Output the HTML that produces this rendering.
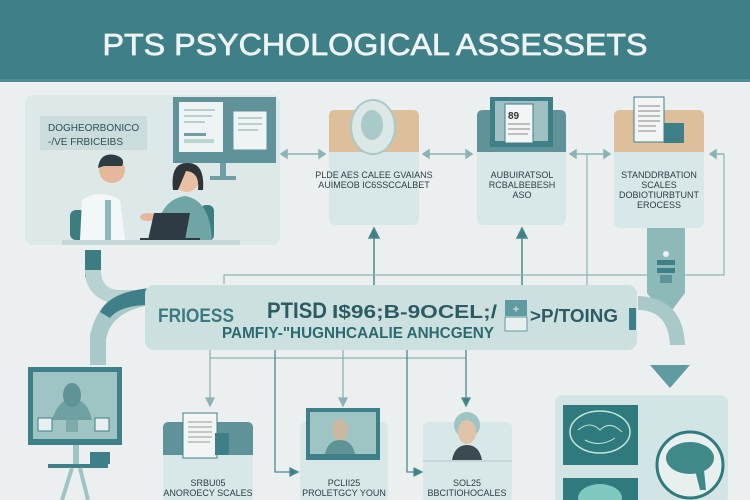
<!DOCTYPE html>
<html><head><meta charset="utf-8"><style>
html,body{margin:0;padding:0;width:750px;height:500px;overflow:hidden;background:#eceff0;font-family:"Liberation Sans",sans-serif}
svg{display:block}
</style></head><body>
<svg width="750" height="500" viewBox="0 0 750 500" xmlns="http://www.w3.org/2000/svg" font-family="Liberation Sans, sans-serif">
<rect width="750" height="500" fill="#eceff0"/>
<!-- header -->
<rect width="750" height="81" fill="#3f7f87"/>
<rect y="79" width="750" height="3" fill="#4f8d94"/>
<text x="375" y="55" text-anchor="middle" font-size="31" fill="#eef4f4" stroke="#eef4f4" stroke-width="0.7" textLength="545" lengthAdjust="spacingAndGlyphs">PTS PSYCHOLOGICAL ASSESSETS</text>

<!-- left panel -->
<rect x="25" y="95" width="255" height="150" rx="8" fill="#dde8e8"/>
<rect x="40" y="116" width="107" height="34" fill="#cbdcdc"/>
<text x="48" y="131" font-size="10" fill="#2d4f55">DOGHEORBONICO</text>
<text x="48" y="145" font-size="10" fill="#2d4f55">-/VE FRBICEIBS</text>
<rect x="173" y="97" width="103" height="66" fill="#5f9299"/>
<rect x="179" y="102" width="44" height="50" fill="#eef3f3"/>
<rect x="233" y="111" width="34" height="39" fill="#eef3f3" stroke="#5f9299"/>
<g stroke="#a9c2c4" stroke-width="1.5"><line x1="184" y1="110" x2="215" y2="110"/><line x1="184" y1="116" x2="212" y2="116"/><line x1="184" y1="122" x2="205" y2="122"/><line x1="238" y1="118" x2="262" y2="118"/><line x1="238" y1="124" x2="262" y2="124"/><line x1="238" y1="130" x2="258" y2="130"/></g>
<rect x="184" y="133" width="22" height="3" fill="#6f9ea3"/><rect x="184" y="139" width="30" height="4" fill="#b9d6d3"/>
<rect x="220" y="163" width="6" height="14" fill="#6f9ea3"/><rect x="210" y="176" width="26" height="4" fill="#6f9ea3"/>
<!-- doctor -->
<rect x="70" y="210" width="16" height="30" rx="6" fill="#3b7d80"/>
<path d="M80 240 L82 200 Q100 188 120 200 L125 240Z" fill="#f4f7f7"/>
<rect x="105" y="200" width="6" height="40" fill="#8fb7c0"/>
<circle cx="112" cy="170" r="13" fill="#e5b89e"/>
<path d="M98 168 Q100 152 115 155 Q126 158 122 166 L104 166Z" fill="#2e3b40"/>
<ellipse cx="148" cy="217" rx="8" ry="4" fill="#e5b89e"/>
<!-- patient -->
<rect x="200" y="205" width="14" height="36" rx="6" fill="#3b7d80"/>
<path d="M155 240 Q158 200 185 196 Q210 200 212 240Z" fill="#6fa5a5"/>
<circle cx="187" cy="180" r="12" fill="#e8c0a5"/>
<path d="M173 190 Q170 162 188 163 Q205 163 203 190 L198 190 Q200 172 186 171 L178 190Z" fill="#2e3438"/>
<path d="M148 240 L154 213 L190 213 L185 240Z" fill="#2e3b44"/>
<rect x="140" y="238" width="60" height="3" fill="#2e3b44"/>
<rect x="62" y="240" width="178" height="5" fill="#c4d8d7"/>

<!-- pipe left -->
<rect x="85" y="250" width="16" height="27" fill="#3b7d80"/>
<path d="M85 270 Q85 300 120 305 L150 305 L150 290 L120 290 Q101 290 101 270Z" fill="#b8d2d2"/>
<path d="M150 290 L138 290 Q100 292 90 335 L90 365 L106 365 L106 340 Q110 312 150 305Z" fill="#a9c9c9"/>
<path d="M150 288 L150 305 Q120 305 110 318 L100 312 Q110 292 150 288Z" fill="#3f7f87"/>

<!-- connectors top -->
<g stroke="#8cb3b3" stroke-width="1.5" fill="#8cb3b3">
<line x1="283" y1="154" x2="323" y2="154"/><polygon points="281,154 287,150 287,158"/><polygon points="325,154 319,150 319,158"/>
<line x1="425" y1="154" x2="470" y2="154"/><polygon points="423,154 429,150 429,158"/><polygon points="472,154 466,150 466,158"/>
<line x1="572" y1="154" x2="608" y2="154"/><polygon points="570,154 576,150 576,158"/><polygon points="610,154 604,150 604,158"/>
<line x1="712" y1="154" x2="724" y2="154"/><polygon points="710,154 716,150 716,158"/>
</g>
<g stroke="#4a8b8b" stroke-width="1.5" fill="#3f7f87">
<line x1="374" y1="236" x2="374" y2="285"/><polygon points="374,228 369,238 379,238"/>
<line x1="522" y1="236" x2="522" y2="285"/><polygon points="522,228 517,238 527,238"/>
</g>
<g stroke="#8cb3b3" stroke-width="1.2" fill="none">
<polyline points="224,284 224,275 724,275 724,154"/>
<line x1="587" y1="154" x2="587" y2="285"/>
</g>

<!-- top cards -->
<rect x="329" y="110" width="90" height="115" rx="6" fill="#d8e7e7"/>
<path d="M329 116 Q329 110 335 110 L413 110 Q419 110 419 116 L419 152 L329 152Z" fill="#ddbf9c"/>
<ellipse cx="373" cy="127" rx="22" ry="27" fill="#dbe8e6" stroke="#a9cac8" stroke-width="2"/>
<ellipse cx="372" cy="125" rx="11" ry="15" fill="#a9cac8"/>
<text x="374" y="178" text-anchor="middle" font-size="9" fill="#2d3f44">PLDE AES CALEE GVAIANS</text>
<text x="374" y="188" text-anchor="middle" font-size="9" fill="#2d3f44">AUIMEOB IC6SSCCALBET</text>

<rect x="477" y="110" width="89" height="115" rx="6" fill="#d8e7e7"/>
<path d="M477 116 Q477 110 483 110 L560 110 Q566 110 566 116 L566 152 L477 152Z" fill="#5f9299"/>
<rect x="490" y="97" width="63" height="50" fill="#3f7f87"/>
<rect x="495" y="101" width="53" height="40" fill="#9fc1c3"/>
<rect x="505" y="104" width="28" height="39" fill="#f3f5f5" stroke="#3f7f87"/>
<text x="508" y="119" font-size="10" font-weight="bold" fill="#333">89</text>
<g stroke="#888" stroke-width="1"><line x1="508" y1="124" x2="530" y2="124"/><line x1="508" y1="129" x2="530" y2="129"/><line x1="508" y1="134" x2="528" y2="134"/></g>
<text x="522" y="178" text-anchor="middle" font-size="9" fill="#2d3f44">AUBUIRATSOL</text>
<text x="522" y="188" text-anchor="middle" font-size="9" fill="#2d3f44">RCBALBEBESH</text>
<text x="522" y="198" text-anchor="middle" font-size="9" fill="#2d3f44">ASO</text>

<rect x="614" y="110" width="90" height="118" rx="6" fill="#d8e7e7"/>
<path d="M614 116 Q614 110 620 110 L698 110 Q704 110 704 116 L704 152 L614 152Z" fill="#ddbf9c"/>
<rect x="634" y="97" width="30" height="45" fill="#f3f5f5" stroke="#3f7f87"/>
<g stroke="#888" stroke-width="1"><line x1="638" y1="106" x2="660" y2="106"/><line x1="638" y1="111" x2="660" y2="111"/><line x1="638" y1="116" x2="660" y2="116"/><line x1="638" y1="121" x2="660" y2="121"/><line x1="638" y1="126" x2="656" y2="126"/><line x1="638" y1="131" x2="656" y2="131"/></g>
<rect x="664" y="123" width="20" height="20" fill="#3f7f87"/>
<text x="659" y="178" text-anchor="middle" font-size="9" fill="#2d3f44">STANDDRBATION</text>
<text x="659" y="188" text-anchor="middle" font-size="9" fill="#2d3f44">SCALES</text>
<text x="659" y="198" text-anchor="middle" font-size="9" fill="#2d3f44">DOBIOTIURBTUNT</text>
<text x="659" y="208" text-anchor="middle" font-size="9" fill="#2d3f44">EROCESS</text>

<!-- down arrow right -->
<path d="M647 228 L685 228 L685 293 L666 318 L647 293Z" fill="#8db9b9"/>
<rect x="657" y="260" width="18" height="5" fill="#3f7f87"/><rect x="657" y="268" width="18" height="5" fill="#3f7f87"/><rect x="660" y="275" width="12" height="8" fill="#5f9299"/>
<circle cx="666" cy="254" r="3" fill="#eef"/>
<path d="M638 310 Q668 310 670 345 L685 345 Q683 298 638 296Z" fill="#a9c9c9"/>
<polygon points="650,365 690,365 670,388" fill="#5f9ba0"/>

<!-- central bar -->
<rect x="145" y="285" width="492" height="65" rx="9" fill="#cde0e0"/>
<text x="158" y="322" font-size="19" font-weight="bold" fill="#3b7a80" textLength="76" lengthAdjust="spacingAndGlyphs">FRIOESS</text>
<text x="267" y="318" font-size="22" font-weight="bold" fill="#2c5c62" textLength="60" lengthAdjust="spacingAndGlyphs">PTISD</text>
<text x="332" y="318" font-size="18" font-weight="bold" fill="#2c5c62" textLength="165" lengthAdjust="spacingAndGlyphs">I$96;B-9OCEL;/</text>
<text x="222" y="338" font-size="16" font-weight="bold" fill="#2c6a70" textLength="272" lengthAdjust="spacingAndGlyphs">PAMFIY-"HUGNHCAALIE ANHCGENY</text>
<rect x="505" y="300" width="22" height="16" fill="#5f9ba0"/><text x="516" y="313" text-anchor="middle" font-size="12" fill="#eef">+</text>
<rect x="505" y="317" width="22" height="14" fill="#e8efef" stroke="#5f9ba0"/>
<text x="530" y="322" font-size="18" font-weight="bold" fill="#2c5c62" textLength="88" lengthAdjust="spacingAndGlyphs">&gt;P/TOING</text>
<rect x="629" y="308" width="7" height="22" fill="#3f7f87"/>

<!-- bottom connectors -->
<g stroke="#8cb3b3" stroke-width="1.3" fill="#8cb3b3">
<polyline points="210,350 210,400" fill="none"/><polygon points="210,406 206,398 214,398"/>
<polyline points="210,358 466,358" fill="none"/>
<line x1="343" y1="350" x2="343" y2="400"/><polygon points="343,406 339,398 347,398"/>
</g>
<g stroke="#4a8b8b" stroke-width="1.3" fill="#3f7f87">
<polyline points="275,350 275,472 293,472" fill="none"/><polygon points="298,472 290,468 290,476"/>
<polyline points="407,350 407,472 417,472" fill="none"/><polygon points="422,472 414,468 414,476"/>
<line x1="466" y1="350" x2="466" y2="400"/><polygon points="466,406 462,398 470,398"/>
</g>

<!-- left monitor -->
<rect x="28" y="367" width="94" height="78" fill="#3f7f87"/>
<rect x="33" y="372" width="84" height="67" fill="#9fc4c4"/>
<path d="M52 420 Q58 400 72 398 Q88 400 92 420Z" fill="#6fa1a2"/>
<ellipse cx="72" cy="395" rx="9" ry="12" fill="#5f9395"/>
<rect x="38" y="418" width="14" height="13" fill="#e8efef" stroke="#3f7f87"/><rect x="95" y="418" width="14" height="13" fill="#e8efef" stroke="#3f7f87"/>
<rect x="66" y="420" width="12" height="12" fill="#7eaaab"/>
<rect x="73" y="445" width="6" height="22" fill="#9fc4c4"/>
<rect x="48" y="464" width="60" height="4" fill="#3f7f87"/>
<rect x="90" y="452" width="20" height="12" fill="#3f7f87"/>
<g stroke="#9fc4c4" stroke-width="4"><line x1="72" y1="468" x2="62" y2="500"/><line x1="80" y1="468" x2="88" y2="500"/></g>

<!-- bottom cards -->
<rect x="163" y="422" width="90" height="80" rx="6" fill="#d8e7e7"/>
<path d="M163 428 Q163 422 169 422 L247 422 Q253 422 253 428 L253 455 L163 455Z" fill="#5f9299"/>
<rect x="183" y="413" width="34" height="45" fill="#f3f5f5" stroke="#3f7f87"/>
<g stroke="#999" stroke-width="1"><line x1="188" y1="422" x2="212" y2="422"/><line x1="188" y1="427" x2="212" y2="427"/><line x1="188" y1="432" x2="212" y2="432"/><line x1="188" y1="437" x2="212" y2="437"/><line x1="188" y1="442" x2="210" y2="442"/></g>
<rect x="215" y="433" width="14" height="22" fill="#3f7f87"/>
<text x="208" y="486" text-anchor="middle" font-size="9" fill="#2d3f44">SRBU05</text>
<text x="208" y="496" text-anchor="middle" font-size="9" fill="#2d3f44">ANOROECY SCALES</text>

<rect x="300" y="422" width="88" height="80" rx="6" fill="#d8e7e7"/>
<rect x="306" y="408" width="74" height="52" fill="#3f7f87"/>
<rect x="310" y="412" width="66" height="42" fill="#9fc4c4"/>
<ellipse cx="340" cy="430" rx="8" ry="11" fill="#c9b9a3"/>
<path d="M325 454 Q328 440 340 440 Q352 440 355 454Z" fill="#5f9395"/>
<text x="344" y="486" text-anchor="middle" font-size="9" fill="#2d3f44">PCLII25</text>
<text x="344" y="496" text-anchor="middle" font-size="9" fill="#2d3f44">PROLETGCY YOUN</text>

<rect x="423" y="422" width="89" height="80" rx="6" fill="#d8e7e7"/>
<circle cx="467" cy="425" r="13" fill="#9fc4c4"/>
<ellipse cx="467" cy="432" rx="9" ry="12" fill="#e2c2a8"/>
<path d="M452 460 Q455 445 467 445 Q479 445 482 460Z" fill="#3a4a4f"/>
<rect x="423" y="460" width="89" height="2" fill="#c4d8d7"/>
<text x="467" y="486" text-anchor="middle" font-size="9" fill="#2d3f44">SOL25</text>
<text x="467" y="496" text-anchor="middle" font-size="9" fill="#2d3f44">BBCITIOHOCALES</text>

<!-- brain panel -->
<rect x="555" y="395" width="173" height="110" rx="8" fill="#d3e4e4"/>
<rect x="563" y="405" width="75" height="60" fill="#2f7a7c"/>
<ellipse cx="600" cy="432" rx="30" ry="21" fill="none" stroke="#bfe3df" stroke-width="1.5"/>
<path d="M578 430 Q590 420 600 430 Q610 420 622 432 M585 440 Q600 448 615 438" stroke="#bfe3df" fill="none"/>
<rect x="563" y="478" width="75" height="25" fill="#2f7a7c"/>
<ellipse cx="600" cy="498" rx="22" ry="14" fill="#7ec8c0"/>
<circle cx="690" cy="465" r="33" fill="#e8f0ef" stroke="#2f7a7c" stroke-width="3"/>
<ellipse cx="690" cy="458" rx="24" ry="16" fill="#3f8a88"/>
<path d="M695 470 L700 490 L706 490 L704 470Z" fill="#3f8a88"/>
</svg>
</body></html>
